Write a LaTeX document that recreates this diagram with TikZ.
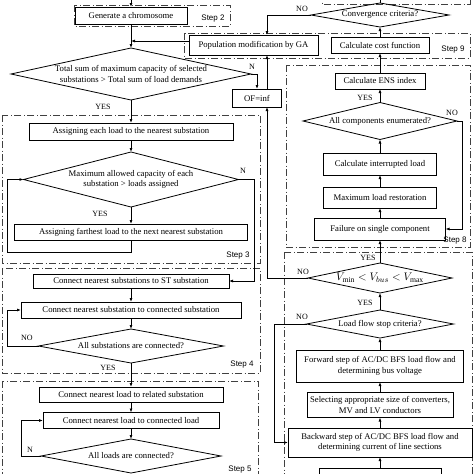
\documentclass[tikz,border=0pt]{standalone}
\usepackage{fontspec}
\setmainfont{Liberation Serif}
\newfontfamily\steplabelfont{Liberation Sans}
\usetikzlibrary{arrows.meta, shapes.geometric}

\begin{document}
\begin{tikzpicture}[
	x = 1pt, y = -1pt,
	every node/.style = {font=\fontsize{8.7}{10.5}\selectfont, inner sep=0pt, outer sep=0pt},
	procbox/.style = {rectangle, draw, line width=0.8pt, align=center},
	decision/.style = {diamond, draw, line width=0.8pt, align=center, shape aspect=5},
	stepframe/.style = {draw=black!75, dash pattern=on 7pt off 2.5pt on 1pt off 2.5pt, line width=0.6pt},
	steplabel/.style = {font=\steplabelfont\fontsize{8}{9}\selectfont},
	answer/.style = {font=\fontsize{8}{9}\selectfont},
	flow/.style = {-{Latex[length=4pt, width=3pt]}, line width=0.8pt},
]
	\useasboundingbox (0,0) rectangle (474,474);
	\clip (0,0) rectangle (474,474);

	% step frames
	\draw [stepframe] (322,-20) rectangle (470,4);
	\draw [stepframe] (74,5) rectangle (230,26);
	\draw [stepframe] (184,33) rectangle (470,58);
	\draw [stepframe] (2,115) rectangle (260,263);
	\draw [stepframe] (2,268) rectangle (260,373);
	\draw [stepframe] (2,381) rectangle (258,490);
	\draw [stepframe] (286,65) rectangle (470,247);
	\draw [stepframe] (284,252) rectangle (472,490);

	\node [steplabel] (steptwo) at (213,19) {Step 2};
	\node [steplabel] (stepnine) at (453,50) {Step 9};
	\node [steplabel] (stepthree) at (238,256) {Step 3};
	\node [steplabel] (stepeight) at (455,241) {Step 8};
	\node [steplabel] (stepfour) at (242,365) {Step 4};
	\node [steplabel] (stepfive) at (240,470) {Step 5};

	% left column
	\node [procbox, minimum width=112pt, minimum height=17pt] (gen) at (131,15.5) {Generate a chromosome};
	\node [decision, shape aspect=4.6, minimum width=240pt, minimum height=52pt] (totsum) at (131,74)
		{Total sum of maximum capacity of selected\\substations > Total sum of load demands};
	\node [procbox, minimum width=204pt, minimum height=17pt] (assign) at (131,131.5) {Assigning each load to the nearest substation};
	\node [decision, shape aspect=3.9, minimum width=215pt, minimum height=55pt] (maxcap) at (131,179.5)
		{Maximum allowed capacity of each\\substation > loads assigned};
	\node [procbox, minimum width=233pt, minimum height=16pt] (farthest) at (131,232) {Assigning farthest load to the next nearest substation};
	\node [procbox, minimum width=196pt, minimum height=14pt] (stconn) at (131,281) {Connect nearest substations to ST substation};
	\node [procbox, minimum width=220pt, minimum height=16pt] (subconn) at (131,310) {Connect nearest substation to connected substation};
	\node [decision, minimum width=185pt, minimum height=34pt] (allsub) at (131,346) {All substations are connected?};
	\node [procbox, minimum width=184pt, minimum height=15pt] (loadrel) at (131,394.5) {Connect nearest load to related substation};
	\node [procbox, minimum width=176pt, minimum height=16pt] (loadconn) at (131,420.5) {Connect nearest load to connected load};
	\node [decision, minimum width=180pt, minimum height=34pt] (allload) at (131,456) {All loads are connected?};

	% middle and right column
	\node [procbox, minimum width=129pt, minimum height=20pt] (popmod) at (253.5,45) {Population modification by GA};
	\node [procbox, minimum width=49pt, minimum height=18pt] (ofinf) at (257,98) {OF=inf};
	\node [decision, minimum width=138pt, minimum height=24pt] (converge) at (380,15) {Convergence criteria?};
	\node [procbox, minimum width=98pt, minimum height=16pt] (cost) at (380,45) {Calculate cost function};
	\node [procbox, minimum width=90pt, minimum height=16pt] (ens) at (380,81) {Calculate ENS index};
	\node [decision, minimum width=154pt, minimum height=37pt] (allcomp) at (380,121) {All components enumerated?};
	\node [procbox, minimum width=113pt, minimum height=22pt] (interrupted) at (380,164) {Calculate interrupted load};
	\node [procbox, minimum width=113pt, minimum height=21pt] (maxrest) at (380,197.5) {Maximum load restoration};
	\node [procbox, minimum width=131pt, minimum height=22pt] (failure) at (380,229) {Failure on single component};
	\node [decision, minimum width=144pt, minimum height=30pt, font=\fontsize{11}{12}\selectfont] (vbus) at (380,278)
		{$V_{\mathrm{min}} < V_{bus} < V_{\mathrm{max}}$};
	\node [decision, minimum width=147pt, minimum height=28pt] (lfstop) at (380,324) {Load flow stop criteria?};
	\node [procbox, minimum width=167pt, minimum height=32pt] (forward) at (380,366)
		{Forward step of AC/DC BFS load flow and\\determining bus voltage};
	\node [procbox, minimum width=146pt, minimum height=25pt] (sizing) at (380,405)
		{Selecting appropriate size of converters,\\MV and LV conductors};
	\node [procbox, minimum width=184pt, minimum height=29pt] (backward) at (380,442.5)
		{Backward step of AC/DC BFS load flow and\\determining current of line sections};
	\node [procbox, minimum width=122pt, minimum height=24pt] (nextbox) at (380,480) {};

	% answers
	\node [answer] (noconv) at (302,9) {NO};
	\node [answer] (ntot) at (252,67) {N};
	\node [answer] (yestot) at (103,107) {YES};
	\node [answer] (nmax) at (243,171) {N};
	\node [answer] (yesmax) at (100,214) {YES};
	\node [answer] (nosub) at (27,338) {NO};
	\node [answer] (yessub) at (108,368) {YES};
	\node [answer] (nload) at (30,450) {N};
	\node [answer] (yescomp) at (365,98) {YES};
	\node [answer] (nocomp) at (452,113) {NO};
	\node [answer] (yesvbus) at (368,258) {YES};
	\node [answer] (novbus) at (303,272) {NO};
	\node [answer] (yeslf) at (365,303) {YES};
	\node [answer] (nolf) at (302,317) {NO};

	% connectors
	\foreach \from/\to in {gen/totsum, totsum/assign, assign/maxcap, maxcap/farthest, stconn/subconn,
			       subconn/allsub, allsub/loadrel, loadrel/loadconn, loadconn/allload}{%
		\draw [flow] (\from) -- (\to);
	}
	\foreach \from/\to in {cost/converge, ens/cost, allcomp/ens, interrupted/allcomp, maxrest/interrupted,
			       failure/maxrest, vbus/failure, lfstop/vbus, forward/lfstop, sizing/forward,
			       backward/sizing, nextbox/backward}{%
		\draw [flow] (\from) -- (\to);
	}

	\coordinate (genin) at (131,-2);
	\coordinate (convin) at (380,-2);
	\coordinate (gajoin) at ([yshift=4pt]popmod.west);
	\coordinate (ofup) at ([xshift=10pt]ofinf.north);
	\coordinate (loopthree) at (7,252);

	\draw [flow] (genin) -- (gen);
	\draw [line width=0.8pt] (convin) -- (converge);
	\draw [flow] (gajoin) -- (gajoin -| gen);
	\draw [flow] (converge.west) -| ([xshift=13.5pt]popmod.north);
	\draw [flow] (totsum.east) -| (ofinf.north);
	\draw [flow] (ofup) -- (ofup |- popmod.south);
	\draw [flow] (vbus.west) -| ([xshift=10pt]ofinf.south);
	\draw [flow] (farthest.south) |- (loopthree) |- (maxcap.west);
	\draw [flow] (maxcap.east) -- ++(16,0) |- (stconn.east);
	\draw [flow] (allsub.west) -- ++(-31,0) |- (subconn.west);
	\draw [flow] (allload.west) -- ++(-20,0) |- (loadconn.west);
	\draw [flow] (allcomp.east) -- ++(5,0) |- (failure.east);
	\draw [flow] (lfstop.west) -- ++(-32,0) |- (backward.west);
\end{tikzpicture}
\end{document}
